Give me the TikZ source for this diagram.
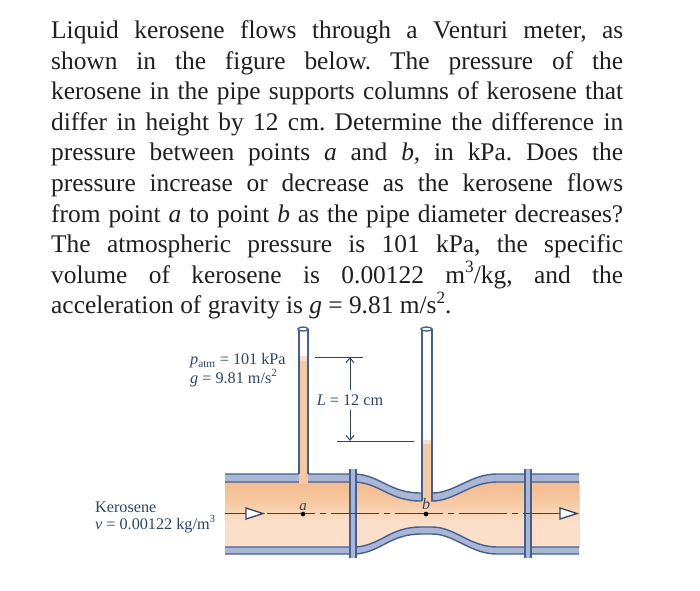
\documentclass[tikz,border=0pt]{standalone}
\usepackage{xcolor}
\usepackage{fontspec}
\setmainfont{Liberation Serif}
\usepackage{tikz}
\usetikzlibrary{arrows.meta}
\definecolor{wallfill}{HTML}{A9B6D6}
\definecolor{walldark}{HTML}{44608F}
\definecolor{labelink}{HTML}{2E4468}
\definecolor{kerolight}{HTML}{F7C9A2}
\definecolor{keromid}{HTML}{F0B183}
\definecolor{keropale}{HTML}{FBDFC8}
\pgfdeclareverticalshading{keroshade}{100bp}{
    color(0bp)=(keromid!60!keropale);
    color(14bp)=(keropale);
    color(45bp)=(keropale);
    color(60bp)=(kerolight);
    color(84bp)=(keromid);
    color(96bp)=(kerolight);
    color(100bp)=(keropale)
}
\newcommand{\supersm}[1]{\raisebox{0.42em}{\fontsize{0.68em}{1em}\selectfont #1}}
\tikzset{
    wall/.style={fill=wallfill},
    wallline/.style={draw=walldark, line width=1.4pt},
    tube/.style={draw=walldark, line width=2pt},
    tag/.style={text=labelink, inner sep=0pt, font=\fontsize{16.2}{18}\selectfont},
    dimline/.style={draw=labelink, line width=1pt},
    flowtip/.style={draw=labelink, line width=1.3pt, fill=white},
    axisline/.style={draw=labelink, line width=1.6pt}
}
\begin{document}
\begin{tikzpicture}[x=1pt, y=-1pt]
    \useasboundingbox (0,0) rectangle (700,590);
    \node[anchor=north west, inner sep=0pt, text width=572pt, align=justify, text=black!88, font=\frenchspacing\fontsize{25.4}{30.6}\selectfont] (question) at (51,20.5) {Liquid kerosene flows through a Venturi meter, as\linebreak
        shown in the figure below. The pressure of the\linebreak
        kerosene in the pipe supports columns of kerosene that\linebreak
        differ in height by 12 cm. Determine the difference in\linebreak
        pressure between points \textit{a} and \textit{b}, in kPa. Does the\linebreak
        pressure increase or decrease as the kerosene flows\linebreak
        from point \textit{a} to point \textit{b} as the pipe diameter decreases?\linebreak
        The atmospheric pressure is 101 kPa, the specific\linebreak
        volume of kerosene is 0.00122 m\supersm{3}/kg, and the\linebreak
        acceleration of gravity is \textit{g} = 9.81 m/s\supersm{2}.};

    \fill[shading=keroshade] (225,482) -- (356,482) .. controls (381,484) and (390,501) .. (421,501) -- (432,501) .. controls (455,501) and (470,482) .. (497,482) -- (579,482) -- (579,548) -- (497,548) .. controls (470,548) and (455,527) .. (432,527) -- (421,527) .. controls (390,527) and (381,546) .. (356,548) -- (225,548) -- cycle;

    \fill[wall] (225,474) -- (356,474) .. controls (381,476) and (390,493) .. (421,493) -- (432,493) .. controls (455,493) and (470,474) .. (497,474) -- (579,474) -- (579,482) -- (497,482) .. controls (470,482) and (455,501) .. (432,501) -- (421,501) .. controls (390,501) and (381,484) .. (356,482) -- (225,482) -- cycle;
    \fill[wall] (225,547) -- (356,547) .. controls (381,545) and (390,527) .. (421,527) -- (432,527) .. controls (455,527) and (470,547) .. (497,547) -- (579,547) -- (579,554) -- (497,554) .. controls (470,554) and (455,534) .. (432,534) -- (421,534) .. controls (390,534) and (381,552) .. (356,554) -- (225,554) -- cycle;
    \draw[wallline] (225,474) -- (356,474) .. controls (381,476) and (390,493) .. (421,493) -- (432,493) .. controls (455,493) and (470,474) .. (497,474) -- (579,474);
    \draw[wallline] (225,482) -- (356,482) .. controls (381,484) and (390,501) .. (421,501) -- (432,501) .. controls (455,501) and (470,482) .. (497,482) -- (579,482);
    \draw[wallline] (225,547) -- (356,547) .. controls (381,545) and (390,527) .. (421,527) -- (432,527) .. controls (455,527) and (470,547) .. (497,547) -- (579,547);
    \draw[wallline] (225,554) -- (356,554) .. controls (381,552) and (390,534) .. (421,534) -- (432,534) .. controls (455,534) and (470,554) .. (497,554) -- (579,554);

    \fill[color=kerolight] (299,356) rectangle (308,484);
    \fill[color=keropale] (299,356) rectangle (308,361);
    \draw[tube] (298.5,329) -- (298.5,474);
    \draw[tube] (307.5,329) -- (307.5,474);
    \draw[wallline, fill=white] (303,329) ellipse [x radius=5, y radius=2];

    \fill[color=kerolight] (422,440) rectangle (431,503);
    \fill[color=keropale] (422,440) rectangle (431,444);
    \draw[tube] (421.5,329) -- (421.5,501);
    \draw[tube] (431.5,329) -- (431.5,501);
    \draw[wallline, fill=white] (426.5,329) ellipse [x radius=5.5, y radius=2];

    \fill[wall] (350,469) rectangle (356,558);
    \draw[wallline] (350,469) -- (350,558);
    \draw[wallline] (356,469) -- (356,558);
    \fill[wall] (525,469) rectangle (531,558);
    \draw[wallline] (525,469) -- (525,558);
    \draw[wallline] (531,469) -- (531,558);

    \coordinate (pipestart) at (225,513.5);
    \coordinate (pipeend) at (577,513.5);
    \draw[axisline, dash pattern=on 48pt off 5pt on 6pt off 5pt] (267,513.5) -- (pipeend);
    \draw[axisline] (pipestart) -- (248,513.5);
    \draw[flowtip] (246,508) -- (263,513.5) -- (246,519) -- cycle;
    \draw[flowtip] (560,508) -- (577,513.5) -- (560,519) -- cycle;

    \fill[color=black] (303,514) circle [radius=2.3pt];
    \node[tag, anchor=base, font=\fontsize{15}{15}\selectfont\itshape] (pointa) at (303,510) {a};
    \fill[color=black] (426,514) circle [radius=2.3pt];
    \node[tag, anchor=base, font=\fontsize{16}{15}\selectfont\itshape] (pointb) at (426,509) {b};

    \coordinate (topleft) at (315,357);
    \coordinate (topright) at (363,357);
    \coordinate (bottomleft) at (337,441);
    \coordinate (bottomright) at (414,441);
    \draw[dimline] (topleft) -- (topright);
    \draw[dimline] (bottomleft) -- (bottomright);
    \node[tag] (height) at (350,400) {\textit{L} = 12 cm};
    \coordinate (heighttop) at (350,357);
    \coordinate (heightbottom) at (350,441);
    \draw[dimline, -{Straight Barb[length=5pt, width=8pt]}] (height.north) ++(0,-4) -- (heighttop);
    \draw[dimline, -{Straight Barb[length=5pt, width=8pt]}] (height.south) ++(0,4) -- (heightbottom);

    \node[tag, anchor=base west] (patm) at (190,364.5) {\textit{p}\textsubscript{atm} = 101 kPa};
    \node[tag, anchor=base west] (grav) at (190,383) {\textit{g} = 9.81 m/s\supersm{2}};
    \node[tag, anchor=base west] (kero) at (95,512) {Kerosene};
    \node[tag, anchor=base west] (spvol) at (95,529) {\textit{v} = 0.00122 kg/m\supersm{3}};
\end{tikzpicture}
\end{document}
